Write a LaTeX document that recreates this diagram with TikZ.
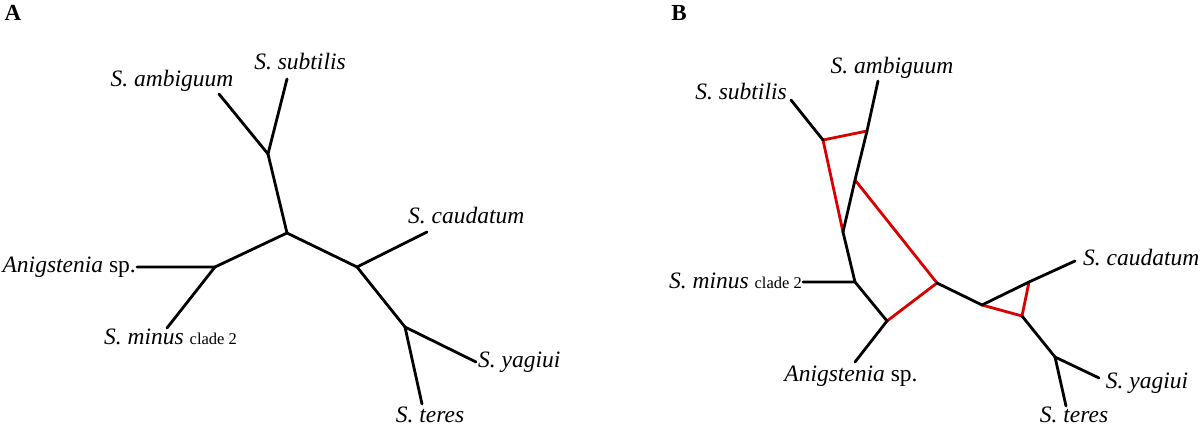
\documentclass[tikz,border=0pt]{standalone}
\usepackage{fontspec}
\setmainfont{Liberation Serif}
\tikzset{
  br/.style={line width=2.8pt, black, line cap=round},
  rt/.style={line width=2.8pt, red!85!black, line cap=round},
  lab/.style={inner sep=0pt, font=\fontsize{23.5}{26}\selectfont},
  panel/.style={inner sep=0pt, font=\fontsize{23}{25}\selectfont\bfseries},
}
\newcommand{\sm}{{\fontsize{16.5}{18}\selectfont clade 2}}
\begin{document}
\begin{tikzpicture}[x=1pt,y=-1pt]
\useasboundingbox (0,0) rectangle (1200,427);
% ---------- Panel A ----------
\node[panel] (pA) at (13,13) {A};
\coordinate (aAmb) at (219,94);
\coordinate (aSub) at (287,79);
\coordinate (aF1) at (268,154);
\coordinate (aC) at (287,233);
\coordinate (aL) at (215,267);
\coordinate (aAni) at (137,267);
\coordinate (aMin) at (167,328);
\coordinate (aR) at (357,267);
\coordinate (aCau) at (427,232);
\coordinate (aR2) at (405,327);
\coordinate (aYag) at (476,362);
\coordinate (aTer) at (422,404);
\draw[br] (aAmb) -- (aF1) -- (aSub);
\draw[br] (aF1) -- (aC);
\draw[br] (aL) -- (aC) -- (aR);
\draw[br] (aAni) -- (aL) -- (aMin);
\draw[br] (aCau) -- (aR) -- (aR2);
\draw[br] (aYag) -- (aR2) -- (aTer);
\node[lab] (tAmb) at (172,81) {\textit{S. ambiguum}};
\node[lab] (tSub) at (300,62) {\textit{S. subtilis}};
\node[lab, anchor=east] (tAni) at (136,267) {\textit{Anigstenia} sp.};
\node[lab, anchor=west] (tMin) at (104,337) {\textit{S. minus} \sm};
\node[lab, anchor=west] (tCau) at (408,216) {\textit{S. caudatum}};
\node[lab, anchor=west] (tYag) at (478,362) {\textit{S. yagiui}};
\node[lab] (tTer) at (430,415) {\textit{S. teres}};
% ---------- Panel B ----------
\node[panel] (pB) at (679,13) {B};
\coordinate (bSubL) at (791,100);
\coordinate (bSub) at (823,140);
\coordinate (bAmbL) at (878,81);
\coordinate (bAmb1) at (867,131);
\coordinate (bAmb2) at (855,180);
\coordinate (bJ) at (843,232);
\coordinate (bM) at (855,282);
\coordinate (bMinL) at (803,282);
\coordinate (bA) at (887,321);
\coordinate (bAniL) at (855,362);
\coordinate (bX) at (937,283);
\coordinate (bY) at (982,305);
\coordinate (bCau1) at (1029,282);
\coordinate (bCauL) at (1075,261);
\coordinate (bZ) at (1022,316);
\coordinate (bW) at (1055,357);
\coordinate (bYagL) at (1099,378);
\coordinate (bTerL) at (1066,406);
% red reticulations
\draw[rt] (bSub) -- (bAmb1);
\draw[rt] (bSub) -- (bJ);
\draw[rt] (bAmb2) -- (bX);
\draw[rt] (bA) -- (bX);
\draw[rt] (bY) -- (bZ) -- (bCau1);
% black edges
\draw[br] (bSubL) -- (bSub);
\draw[br] (bAmbL) -- (bAmb1) -- (bAmb2) -- (bJ) -- (bM);
\draw[br] (bMinL) -- (bM) -- (bA) -- (bAniL);
\draw[br] (bX) -- (bY) -- (bCau1) -- (bCauL);
\draw[br] (bZ) -- (bW);
\draw[br] (bYagL) -- (bW) -- (bTerL);
\node[lab] (uSub) at (741,92) {\textit{S. subtilis}};
\node[lab] (uAmb) at (892,68) {\textit{S. ambiguum}};
\node[lab, anchor=east] (uMin) at (802,281) {\textit{S. minus} \sm};
\node[lab] (uAni) at (851,376) {\textit{Anigstenia} sp.};
\node[lab, anchor=west] (uCau) at (1083,258) {\textit{S. caudatum}};
\node[lab] (uYag) at (1147,383) {\textit{S. yagiui}};
\node[lab] (uTer) at (1074,415) {\textit{S. teres}};
\end{tikzpicture}
\end{document}
